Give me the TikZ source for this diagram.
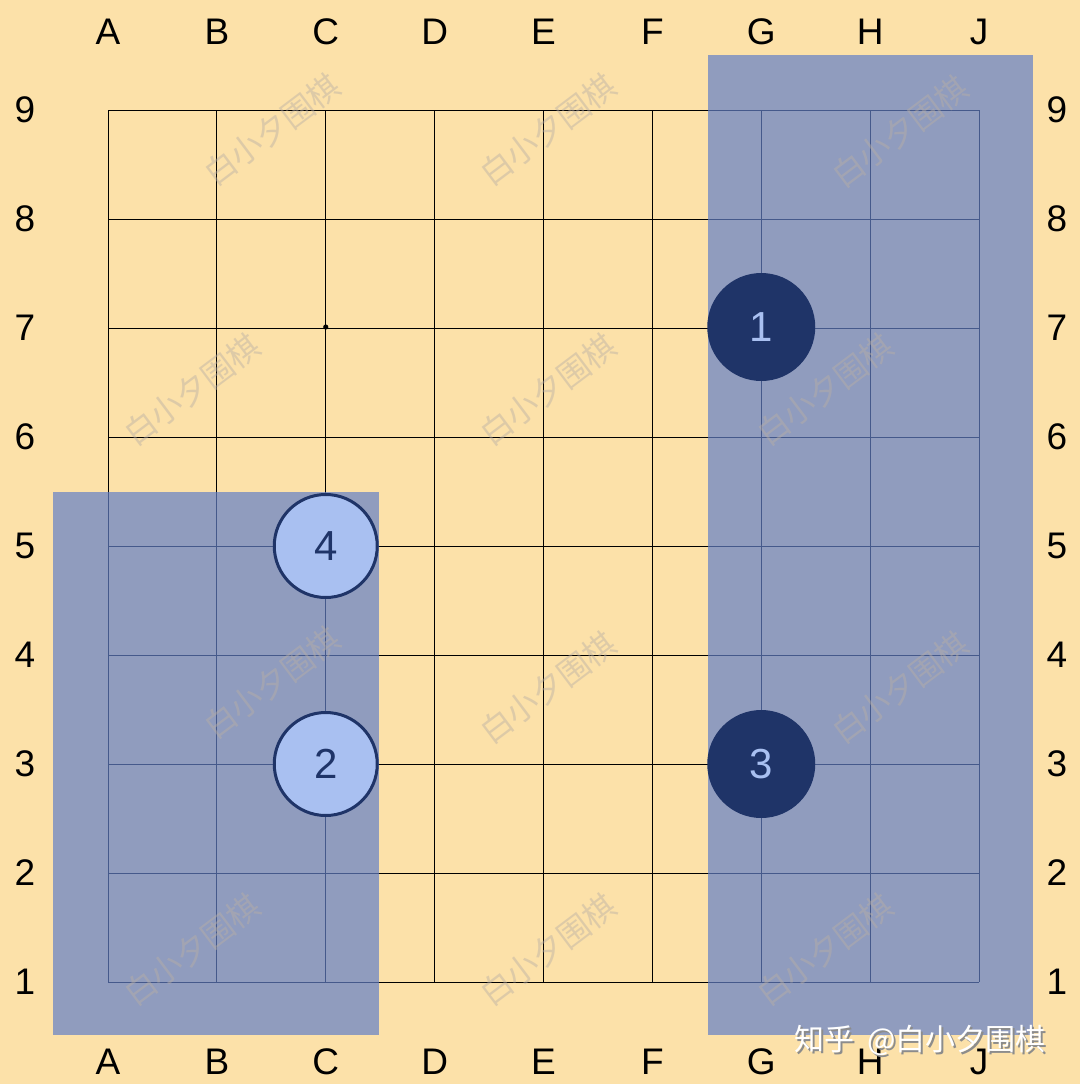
\documentclass[tikz,border=0pt]{standalone}
\usepackage{fontspec}
\setmainfont{Liberation Sans}
\newfontfamily\cjk{Noto Sans CJK SC}
\definecolor{boardc}{HTML}{FCE1A9}
\definecolor{shadec}{HTML}{637FC7}
\definecolor{navy}{HTML}{1F3468}
\definecolor{lightb}{HTML}{A9C0F1}
\definecolor{wmc}{RGB}{185,175,165}
\begin{document}
\begin{tikzpicture}[x=1pt,y=-1pt,
  gridline/.style={black,line width=0.9pt},
  shadearea/.style={fill=shadec,fill opacity=0.7},
  coordlabel/.style={inner sep=0pt,font=\fontsize{37}{40}\selectfont},
  blackstone/.style={circle,fill=navy,minimum size=108pt,inner sep=0pt,text=lightb,font=\fontsize{42}{44}\selectfont},
  whitestone/.style={circle,fill=lightb,draw=navy,line width=3pt,minimum size=103pt,inner sep=0pt,text=navy,font=\fontsize{42}{44}\selectfont},
  watermark/.style={rotate=37,text=wmc,opacity=0.45,font=\cjk\fontsize{32}{33}\selectfont,inner sep=0pt},
  logo/.style={font=\cjk\fontsize{30}{32}\selectfont,inner sep=0pt}]
\fill[boardc] (0,0) rectangle (1080,1084);
\useasboundingbox (0,0) rectangle (1080,1084);
% grid
\foreach \i in {0,...,8}{
  \draw[gridline] ({108+108.875*\i},110) -- ({108+108.875*\i},982);
  \draw[gridline] (108,{110+109*\i}) -- (979,{110+109*\i});
}
\fill[black] (325.75,327) circle (2.6);
% shaded areas
\fill[shadearea] (53,492) rectangle (379,1035);
\fill[shadearea] (708,55) rectangle (1033,1035);
% watermarks
\foreach \p [count=\k] in {(272,130),(548,130),(900,132),(192,390),(548,390),(825,390),(272,683),(548,688),(900,688),(192,950),(548,950),(825,950)}{
  \node[watermark] (wm\k) at \p {白小夕围棋};
}
% coordinate labels
\foreach \l [count=\i from 0] in {A,B,C,D,E,F,G,H,J}{
  \node[coordlabel] (top\l) at ({108+108.875*\i},32) {\l};
  \node[coordlabel] (bot\l) at ({108+108.875*\i},1062) {\l};
}
\foreach \n [count=\i from 0] in {9,8,7,6,5,4,3,2,1}{
  \node[coordlabel] (left\n) at (25,{110+109*\i}) {\n};
  \node[coordlabel] (right\n) at (1057,{110+109*\i}) {\n};
}
% stones
\node[blackstone] (s1) at (761.25,327) {1};
\node[whitestone] (s2) at (325.75,764) {2};
\node[blackstone] (s3) at (761.25,764) {3};
\node[whitestone] (s4) at (325.75,546) {4};
% logo
\node[logo,text=black!45] (logoshadow) at (922,1042) {知乎\ \ @白小夕围棋};
\node[logo,text=white] (logotext) at (920,1040) {知乎\ \ @白小夕围棋};
\end{tikzpicture}
\end{document}
